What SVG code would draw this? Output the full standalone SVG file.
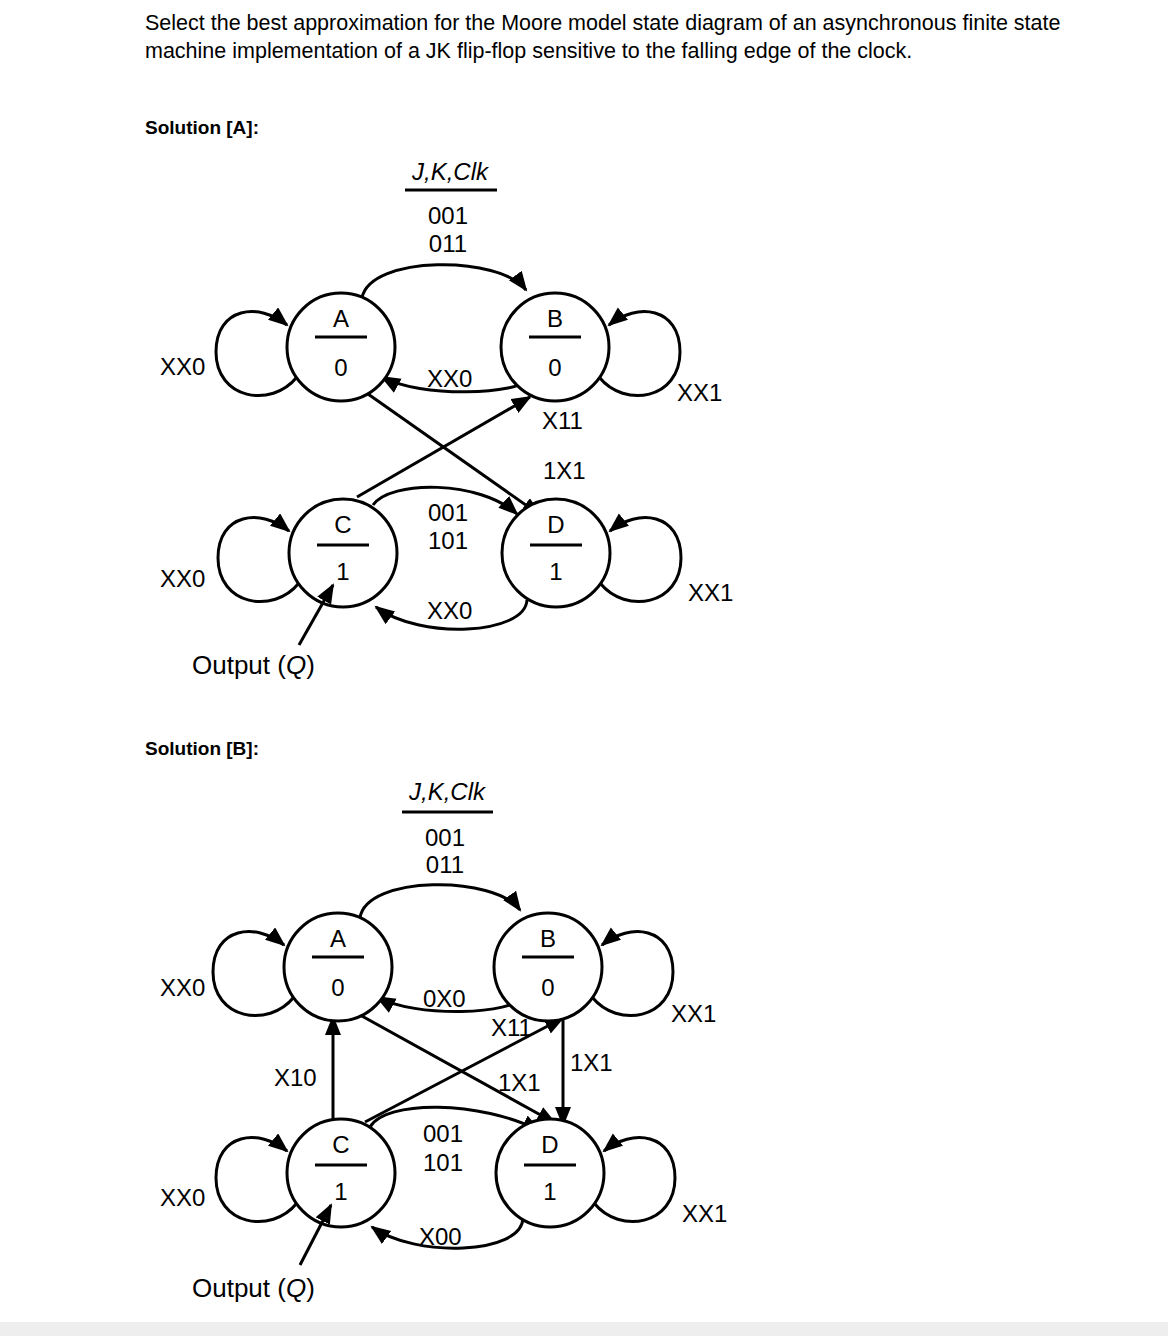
<svg xmlns="http://www.w3.org/2000/svg" xmlns:xlink="http://www.w3.org/1999/xlink" width="1168" height="1336" viewBox="0 0 1168 1336">
<style>
text{font-family:"Liberation Sans",Arial,sans-serif;fill:#000}
.t{font-size:21.5px}
.h{font-size:19px;font-weight:bold}
.l{font-size:24px}
.s{font-size:24px;text-anchor:middle}
.o{font-size:26px}
.e{fill:none;stroke:#000;stroke-width:3}
.c{fill:#fff;stroke:#000;stroke-width:3}
</style>
<defs>
<marker id="ah" markerUnits="userSpaceOnUse" markerWidth="22" markerHeight="18" refX="18" refY="8" orient="auto"><path d="M0,0 L20,8 L0,16 Z" fill="#000"/></marker>
<path id="loopL" class="e" d="M-44 30 C-70 62,-125 52,-125 5 C-125 -40,-82 -45,-54 -22" marker-end="url(#ah)"/>
<path id="loopR" class="e" d="M44 30 C70 62,125 52,125 5 C125 -40,82 -45,54 -22" marker-end="url(#ah)"/>
</defs>
<rect width="1168" height="1336" fill="#fff"/>
<rect y="1322" width="1168" height="14" fill="#eee"/>
<text class="t" x="145" y="30">Select the best approximation for the Moore model state diagram of an asynchronous finite state</text>
<text class="t" x="145" y="58">machine implementation of a JK flip-flop sensitive to the falling edge of the clock.</text>
<text class="h" x="145" y="134">Solution [A]:</text>
<text class="h" x="145" y="755">Solution [B]:</text>

<g id="connectors">
<use href="#loopL" x="341" y="347"/><use href="#loopR" x="555" y="347"/>
<use href="#loopL" x="343" y="553"/><use href="#loopR" x="556" y="553"/>
<path class="e" d="M362 298 C370 255,500 255,526 290" marker-end="url(#ah)"/>
<path class="e" d="M530 378 C520 395,420 398,382 377" marker-end="url(#ah)"/>
<path class="e" d="M368 394 L540 515" marker-end="url(#ah)"/>
<path class="e" d="M357 497 L530 397" marker-end="url(#ah)"/>
<path class="e" d="M373 505 C390 480,480 480,517 514" marker-end="url(#ah)"/>
<path class="e" d="M527 600 C525 635,420 640,376 607" marker-end="url(#ah)"/>
<line x1="405" y1="190" x2="497" y2="190" stroke="#000" stroke-width="3"/>
<use href="#loopL" x="338" y="967"/><use href="#loopR" x="548" y="967"/>
<use href="#loopL" x="341" y="1173"/><use href="#loopR" x="550" y="1173"/>
<path class="e" d="M360 918 C366 875,495 875,520 910" marker-end="url(#ah)"/>
<path class="e" d="M523 996 C515 1015,415 1018,377 997" marker-end="url(#ah)"/>
<path class="e" d="M360 1015 L555 1123" marker-end="url(#ah)"/>
<path class="e" d="M365 1122 L563 1018" marker-end="url(#ah)"/>
<path class="e" d="M563 1018 L563 1125" marker-end="url(#ah)"/>
<path class="e" d="M333 1120 L333 1017" marker-end="url(#ah)"/>
<path class="e" d="M370 1127 C385 1100,480 1100,540 1131" marker-end="url(#ah)"/>
<path class="e" d="M523 1218 C522 1255,415 1258,372 1227" marker-end="url(#ah)"/>
<line x1="402" y1="812" x2="493" y2="812" stroke="#000" stroke-width="3"/>
</g>

<g id="labelsA">
<text class="s" x="450" y="180" font-style="italic" font-size="25">J,K,Clk</text>
<text class="s" x="448" y="224">001</text><text class="s" x="448" y="252">011</text>
<text class="l" x="160" y="375">XX0</text><text class="l" x="677" y="401">XX1</text>
<text class="l" x="427" y="387">XX0</text>
<text class="l" x="542" y="429">X11</text><text class="l" x="543" y="479">1X1</text>
<text class="s" x="448" y="521">001</text><text class="s" x="448" y="549">101</text>
<text class="l" x="427" y="619">XX0</text>
<text class="l" x="160" y="587">XX0</text><text class="l" x="688" y="601">XX1</text>
<text class="o" x="192" y="674">Output (<tspan font-style="italic">Q</tspan>)</text>
</g>
<g id="labelsB">
<text class="s" x="447" y="800" font-style="italic" font-size="25">J,K,Clk</text>
<text class="s" x="445" y="846">001</text><text class="s" x="445" y="873">011</text>
<text class="l" x="160" y="996">XX0</text><text class="l" x="671" y="1022">XX1</text>
<text class="l" x="423" y="1007">0X0</text>
<text class="l" x="491" y="1036">X11</text><text class="l" x="498" y="1091">1X1</text>
<text class="l" x="570" y="1071">1X1</text>
<text class="l" x="274" y="1086">X10</text>
<text class="s" x="443" y="1142">001</text><text class="s" x="443" y="1171">101</text>
<text class="l" x="419" y="1245">X00</text>
<text class="l" x="160" y="1206">XX0</text><text class="l" x="682" y="1222">XX1</text>
<text class="o" x="192" y="1297">Output (<tspan font-style="italic">Q</tspan>)</text>
</g>

<g id="nodeA1" transform="translate(341,347)"><circle class="c" r="54"/><text class="s" y="-20">A</text><line x1="-26" y1="-10" x2="26" y2="-10" stroke="#000" stroke-width="3"/><text class="s" y="29">0</text></g>
<g id="nodeB1" transform="translate(555,347)"><circle class="c" r="54"/><text class="s" y="-20">B</text><line x1="-26" y1="-10" x2="26" y2="-10" stroke="#000" stroke-width="3"/><text class="s" y="29">0</text></g>
<g id="nodeC1" transform="translate(343,553)"><circle class="c" r="54"/><text class="s" y="-20">C</text><line x1="-26" y1="-8" x2="26" y2="-8" stroke="#000" stroke-width="3"/><text class="s" y="27">1</text></g>
<g id="nodeD1" transform="translate(556,553)"><circle class="c" r="54"/><text class="s" y="-20">D</text><line x1="-26" y1="-8" x2="26" y2="-8" stroke="#000" stroke-width="3"/><text class="s" y="27">1</text></g>
<g id="nodeA2" transform="translate(338,967)"><circle class="c" r="54"/><text class="s" y="-20">A</text><line x1="-26" y1="-10" x2="26" y2="-10" stroke="#000" stroke-width="3"/><text class="s" y="29">0</text></g>
<g id="nodeB2" transform="translate(548,967)"><circle class="c" r="54"/><text class="s" y="-20">B</text><line x1="-26" y1="-10" x2="26" y2="-10" stroke="#000" stroke-width="3"/><text class="s" y="29">0</text></g>
<g id="nodeC2" transform="translate(341,1173)"><circle class="c" r="54"/><text class="s" y="-20">C</text><line x1="-26" y1="-8" x2="26" y2="-8" stroke="#000" stroke-width="3"/><text class="s" y="27">1</text></g>
<g id="nodeD2" transform="translate(550,1173)"><circle class="c" r="54"/><text class="s" y="-20">D</text><line x1="-26" y1="-8" x2="26" y2="-8" stroke="#000" stroke-width="3"/><text class="s" y="27">1</text></g>

<g id="outputArrows">
<path class="e" d="M299 645 L333 585" marker-end="url(#ah)"/>
<path class="e" d="M300 1265 L331 1205" marker-end="url(#ah)"/>
</g>
</svg>
